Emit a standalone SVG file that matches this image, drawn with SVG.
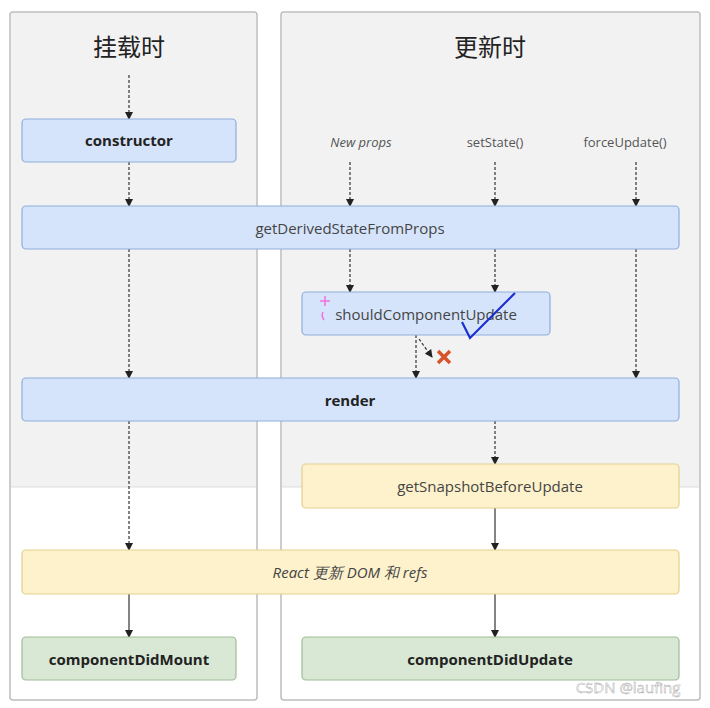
<svg xmlns="http://www.w3.org/2000/svg" width="710" height="708" viewBox="0 0 710 708">
<style>
.panel{fill:#fff;stroke:#bdbdbd;stroke-width:1.5}
.box{stroke-width:1.2}
.blue{fill:#d6e4fb;stroke:#8eaedb}
.yellow{fill:#fdf2cc;stroke:#e3cf8e}
.green{fill:#d9e8d5;stroke:#9dbd96}
.t{font-family:"Open Sans","Noto Sans",sans-serif;font-size:15px;fill:#444;text-anchor:middle}
.b{font-weight:bold;fill:#222}
.lab{font-family:"Open Sans","Noto Sans",sans-serif;font-size:13px;fill:#555;text-anchor:middle}
.h{font-family:"Noto Sans CJK SC",sans-serif;font-size:24px;fill:#222;text-anchor:middle}
.d{stroke:#333;stroke-width:1.2;stroke-dasharray:3,2;fill:none;marker-end:url(#a)}
.s{stroke:#333;stroke-width:1.2;fill:none;marker-end:url(#a)}
</style>
<defs>
<marker id="a" markerWidth="8" markerHeight="8" refX="7" refY="4" orient="auto" markerUnits="userSpaceOnUse"><path d="M0,0L8,4L0,8z" fill="#222"/></marker>
</defs>
<rect width="710" height="708" fill="#fff"/>
<g id="panel-mount"><rect class="panel" x="10" y="12" width="247" height="688" rx="3"/><rect x="11" y="13" width="245" height="474" fill="#f2f2f2"/><line x1="11" y1="487" x2="256" y2="487" stroke="#ddd"/><text class="h" x="129" y="56">挂载时</text></g>
<g id="panel-update"><rect class="panel" x="281" y="12" width="419" height="688" rx="3"/><rect x="282" y="13" width="417" height="474" fill="#f2f2f2"/><line x1="282" y1="487" x2="699" y2="487" stroke="#ddd"/><text class="h" x="490" y="56">更新时</text></g>
<g id="labels">
<text class="lab" x="361" y="147" font-style="italic">New props</text>
<text class="lab" x="495" y="147">setState()</text>
<text class="lab" x="625" y="147">forceUpdate()</text>
</g>
<g id="connectors">
<line class="d" x1="129" y1="75" x2="129" y2="119"/>
<line class="d" x1="129" y1="162" x2="129" y2="206"/>
<line class="d" x1="129" y1="249" x2="129" y2="378"/>
<line class="d" x1="129" y1="421" x2="129" y2="550"/>
<line class="s" x1="129" y1="594" x2="129" y2="637"/>
<line class="d" x1="350" y1="162" x2="350" y2="206"/>
<line class="d" x1="495" y1="162" x2="495" y2="206"/>
<line class="d" x1="636" y1="162" x2="636" y2="206"/>
<line class="d" x1="350" y1="249" x2="350" y2="292"/>
<line class="d" x1="495" y1="249" x2="495" y2="292"/>
<line class="d" x1="636" y1="249" x2="636" y2="378"/>
<line class="d" x1="416" y1="335" x2="416" y2="378"/>
<line class="d" x1="419" y1="339" x2="432" y2="357"/>
<line class="d" x1="495" y1="421" x2="495" y2="464"/>
<line class="s" x1="495" y1="508" x2="495" y2="550"/>
<line class="s" x1="495" y1="594" x2="495" y2="637"/>
</g>
<g id="n-constructor"><rect class="box blue" x="22" y="119" width="214" height="43" rx="4"/><text class="t b" x="129" y="146">constructor</text></g>
<g id="n-gdsfp"><rect class="box blue" x="22" y="206" width="657" height="43" rx="4"/><text class="t" x="350" y="234">getDerivedStateFromProps</text></g>
<g id="n-scu"><rect class="box blue" x="302" y="292" width="248" height="43" rx="4"/><text class="t" x="426" y="320">shouldComponentUpdate</text></g>
<g id="n-render"><rect class="box blue" x="22" y="378" width="657" height="43" rx="4"/><text class="t b" x="350" y="406">render</text></g>
<g id="n-gsbu"><rect class="box yellow" x="302" y="464" width="377" height="44" rx="4"/><text class="t" x="490" y="492">getSnapshotBeforeUpdate</text></g>
<g id="n-dom"><rect class="box yellow" x="22" y="550" width="657" height="44" rx="4"/><text class="t" x="350" y="578" font-style="italic">React 更新 DOM 和 refs</text></g>
<g id="n-cdm"><rect class="box green" x="22" y="637" width="214" height="43" rx="4"/><text class="t b" x="129" y="665">componentDidMount</text></g>
<g id="n-cdu"><rect class="box green" x="302" y="637" width="377" height="43" rx="4"/><text class="t b" x="490" y="665">componentDidUpdate</text></g>
<g id="marks">
<path d="M462,322 L470,338 L515,293" stroke="#1a2fd0" stroke-width="2.2" fill="none"/>
<path d="M320,301h10M325,296v10M323,312q-2,4 1,8" stroke="#f070e0" stroke-width="1.5" fill="none"/>
<path d="M438,351l12,12M450,351l-12,12" stroke="#d9532a" stroke-width="3.5"/>
</g>
<text x="628" y="693" font-family="Open Sans,sans-serif" font-size="15" fill="#fff" stroke="#999" stroke-width="0.4" text-anchor="middle">CSDN @laufing</text>
</svg>
